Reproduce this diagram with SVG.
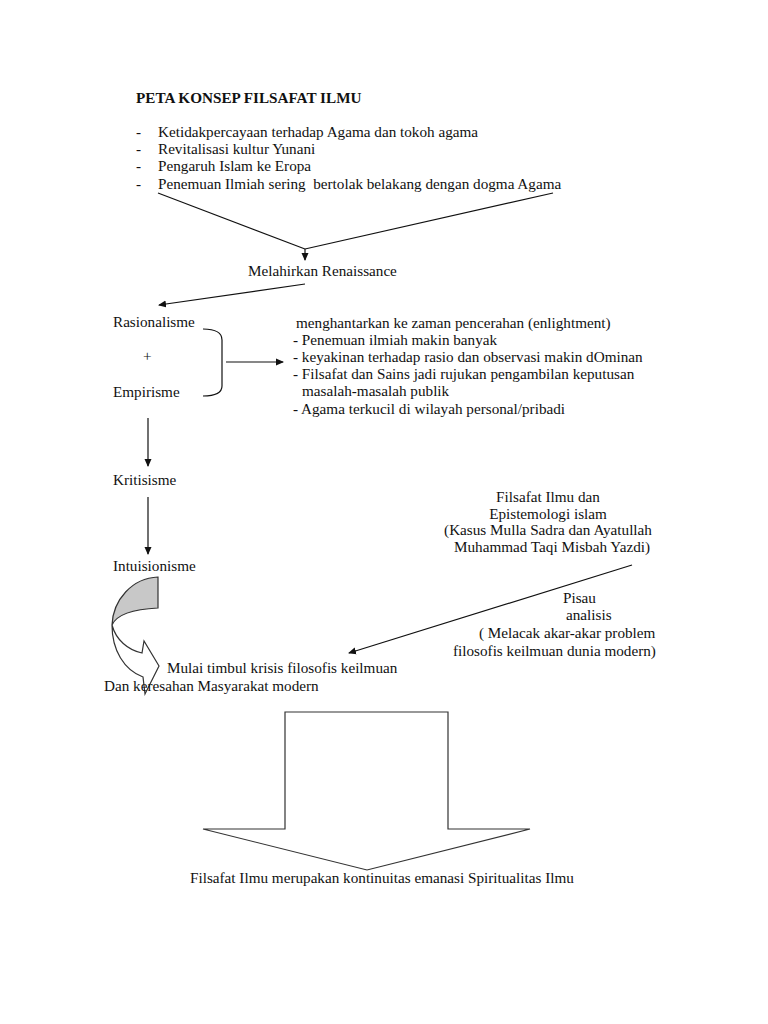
<svg xmlns="http://www.w3.org/2000/svg" width="768" height="1024" viewBox="0 0 768 1024">
<style>
text{font-family:"Liberation Serif","Times New Roman",serif;font-size:15.2px;fill:#111}
.t{font-weight:bold}
.m{text-anchor:middle}
.ln{stroke:#111;stroke-width:1.2;fill:none}
.sh{stroke:#333;stroke-width:1.2;fill:#fff}
</style>
<defs>
<marker id="ah" markerWidth="8" markerHeight="8" refX="7" refY="4" orient="auto" markerUnits="userSpaceOnUse">
<path d="M0,0.5 L8,4 L0,7.5 Z" fill="#111"/>
</marker>
</defs>
<rect width="768" height="1024" fill="#fff"/>
<g id="title"><text class="t" x="136" y="103">PETA KONSEP FILSAFAT ILMU</text></g>
<g id="causes">
<text x="136" y="137">-</text><text x="158" y="137">Ketidakpercayaan terhadap Agama dan tokoh agama</text>
<text x="136" y="154">-</text><text x="158" y="154">Revitalisasi kultur Yunani</text>
<text x="136" y="171">-</text><text x="158" y="171">Pengaruh Islam ke Eropa</text>
<text x="136" y="189">-</text><text x="158" y="189" xml:space="preserve">Penemuan Ilmiah sering  bertolak belakang dengan dogma Agama</text>
</g>
<g id="renaissance"><text x="248" y="276">Melahirkan Renaissance</text></g>
<g id="rasionalisme"><text x="113" y="327">Rasionalisme</text><text x="143" y="361">+</text><text x="113" y="397">Empirisme</text></g>
<g id="enlightment">
<text x="296" y="328">menghantarkan ke zaman pencerahan (enlightment)</text>
<text x="293" y="345">- Penemuan ilmiah makin banyak</text>
<text x="293" y="362">- keyakinan terhadap rasio dan observasi makin dOminan</text>
<text x="293" y="379">- Filsafat dan Sains jadi rujukan pengambilan keputusan</text>
<text x="302" y="396">masalah-masalah publik</text>
<text x="293" y="414">- Agama terkucil di wilayah personal/pribadi</text>
</g>
<g id="kritisisme"><text x="113" y="485">Kritisisme</text></g>
<g id="intuisionisme"><text x="113" y="571">Intuisionisme</text></g>
<g id="islam">
<text class="m" x="548" y="502">Filsafat Ilmu dan</text>
<text class="m" x="548" y="519">Epistemologi islam</text>
<text class="m" x="548" y="535">(Kasus Mulla Sadra dan Ayatullah</text>
<text class="m" x="552" y="552">Muhammad Taqi Misbah Yazdi)</text>
</g>
<g id="pisau">
<text x="563" y="603">Pisau</text>
<text x="566" y="620">analisis</text>
<text x="479" y="638">( Melacak akar-akar problem</text>
<text x="453" y="656">filosofis keilmuan dunia modern)</text>
</g>
<g id="curved-arrow">
<path d="M158,577 L158,608 C136,609 117,614 112,625 C113,600 132,578 158,577 Z" fill="#c8c8c8" stroke="#333" stroke-width="1.2"/>
<path d="M112,625 C116,640 128,650 142,653 L144,641 L159,666 L145,694 L143,677 C124,670 112,650 112,625 Z" class="sh"/>
</g>
<g id="krisis"><text x="167" y="673">Mulai timbul krisis filosofis keilmuan</text><text x="104" y="691">Dan keresahan Masyarakat modern</text></g>
<g id="big-arrow"><path d="M285,712 L448,712 L448,829 L530,829 L367,870 L203,829 L285,829 Z" class="sh"/></g>
<g id="conclusion"><text x="190" y="883">Filsafat Ilmu merupakan kontinuitas emanasi Spiritualitas Ilmu</text></g>
<g id="connectors">
<line class="ln" x1="158" y1="193" x2="305" y2="249"/>
<line class="ln" x1="553" y1="193" x2="305" y2="249"/>
<line class="ln" x1="305" y1="249" x2="305" y2="260" marker-end="url(#ah)"/>
<line class="ln" x1="305" y1="284" x2="159" y2="305" marker-end="url(#ah)"/>
<path class="ln" d="M203,329 Q222,329 222,340 L222,386 Q222,396 203,396"/>
<line class="ln" x1="226" y1="362" x2="283" y2="362" marker-end="url(#ah)"/>
<line class="ln" x1="148" y1="418" x2="148" y2="466" marker-end="url(#ah)"/>
<line class="ln" x1="148" y1="497" x2="148" y2="554" marker-end="url(#ah)"/>
<line class="ln" x1="632" y1="565" x2="349" y2="653" marker-end="url(#ah)"/>
</g>
</svg>
